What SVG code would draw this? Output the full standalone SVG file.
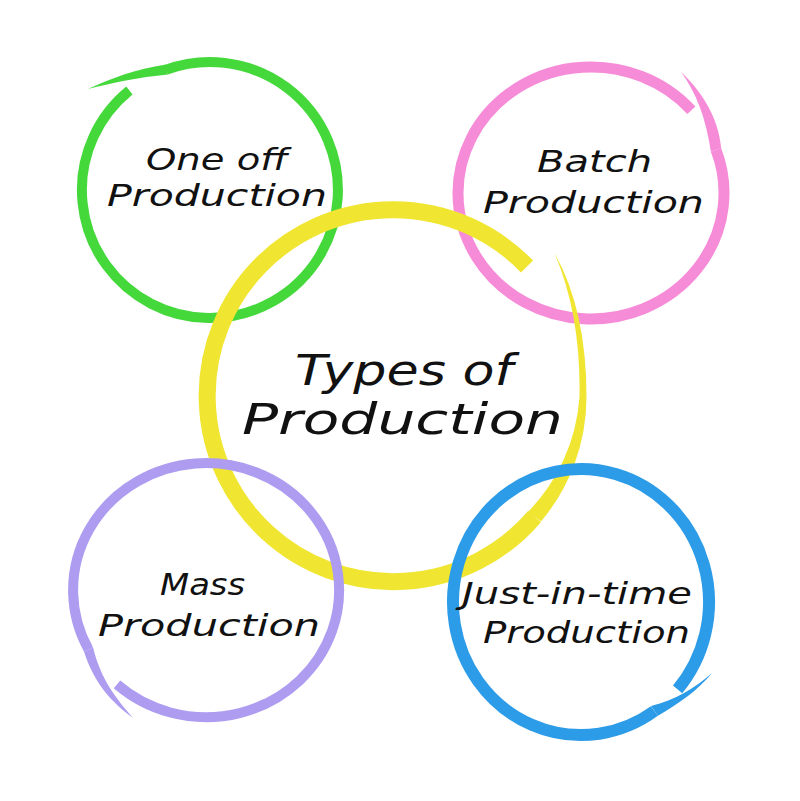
<svg xmlns="http://www.w3.org/2000/svg" width="800" height="801" viewBox="0 0 800 801">
<style>
.ring{fill:none;stroke-linecap:butt}
.lbl{font-family:"DejaVu Sans","Noto Sans",sans-serif;font-style:italic;fill:#111;font-size:31px}
.big{font-size:42px}
</style>
<rect width="800" height="801" fill="#ffffff"/>
<g id="node-one-off">
<path class="ring" stroke="#44d83b" stroke-width="10" d="M129.4,90.5 A128,128 0 1 0 166.2,69.7"/>
<path fill="#44d83b" d="M166,64.6 C136,69 110,79 88,89 C111,83 139,77 167.9,74.4 Z"/>
<text class="lbl" x="146" y="170" textLength="142" lengthAdjust="spacingAndGlyphs">One off</text>
<text class="lbl" x="107" y="206" textLength="220" lengthAdjust="spacingAndGlyphs">Production</text>
</g>
<g id="node-batch">
<path class="ring" stroke="#f68bd7" stroke-width="11" d="M716,149.9 A133,126 0 1 1 691.4,110.3"/>
<path fill="#f68bd7" d="M721.2,148 C718,115 700,90 681,72 C696,92 706,118 710.9,151.8 Z"/>
<text class="lbl" x="537" y="172" textLength="115" lengthAdjust="spacingAndGlyphs">Batch</text>
<text class="lbl" x="483" y="213" textLength="221" lengthAdjust="spacingAndGlyphs">Production</text>
</g>
<g id="node-types">
<path class="ring" stroke="#f0e531" stroke-width="17" d="M527,266.5 A186,186 0 1 0 534.5,516.6"/>
<path fill="#f0e531" d="M528,512 L541,521.5 A194,194 0 0 0 586.5,397 Q586.5,310 554.5,253.1 Q581,315 579.5,397 A183,183 0 0 1 528,512 Z"/>
<text class="lbl big" x="295" y="385" textLength="218" lengthAdjust="spacingAndGlyphs">Types of</text>
<text class="lbl big" x="242" y="434" textLength="321" lengthAdjust="spacingAndGlyphs">Production</text>
</g>
<g id="node-mass">
<path class="ring" stroke="#ad9cf0" stroke-width="10" d="M117,684.4 A133,127 0 1 0 88.6,649.6"/>
<path fill="#ad9cf0" d="M84.1,651.9 C95,685 112,702 133,718 C116,698 101,680 93,647.2 Z"/>
<text class="lbl" x="160" y="595" textLength="85" lengthAdjust="spacingAndGlyphs">Mass</text>
<text class="lbl" x="98" y="636" textLength="222" lengthAdjust="spacingAndGlyphs">Production</text>
</g>
<g id="node-jit">
<path class="ring" stroke="#2c9be8" stroke-width="12" d="M677.6,689.3 A128,133 0 1 0 654.4,711"/>
<path fill="#2c9be8" d="M657.9,715.8 C680,703 698,690 712,673 C695,688 675,700 651,706 Z"/>
<text class="lbl" x="462" y="604" textLength="230" lengthAdjust="spacingAndGlyphs">Just-in-time</text>
<text class="lbl" x="483" y="643" textLength="207" lengthAdjust="spacingAndGlyphs">Production</text>
</g>
<g id="connectors"></g>
</svg>
